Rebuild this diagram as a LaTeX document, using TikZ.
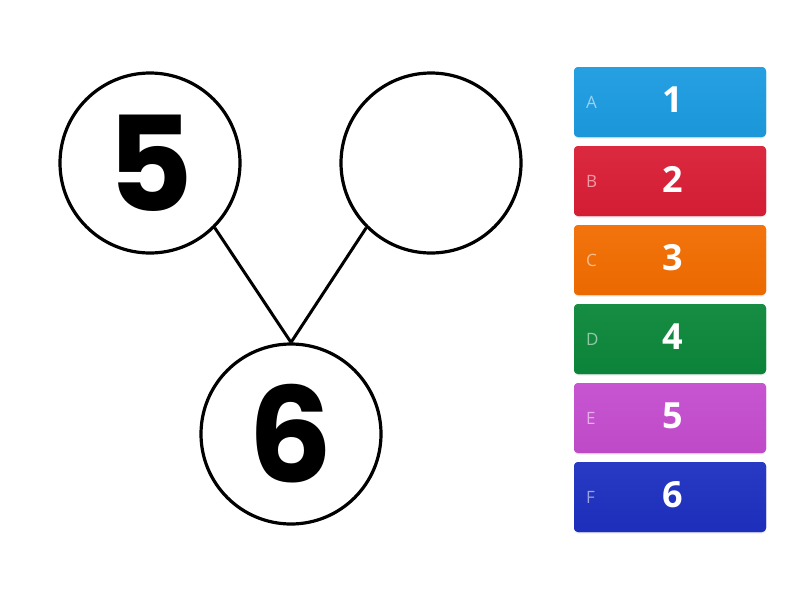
\documentclass[tikz,border=0pt]{standalone}
\usepackage{fontspec}
\setmainfont{Open Sans}
\newfontfamily\bigfont{Poppins}
\usetikzlibrary{shadows}
\definecolor{cA}{HTML}{1B9BE0}
\definecolor{cB}{HTML}{D91E36}
\definecolor{cC}{HTML}{F26C00}
\definecolor{cD}{HTML}{0B873A}
\definecolor{cE}{HTML}{C44CCE}
\definecolor{cF}{HTML}{1D30C0}
\tikzset{
  bubble/.style={circle,draw=black,line width=3.2pt,fill=white,minimum size=180pt,inner sep=0pt,
    font=\bigfont\bfseries\fontsize{132}{132}\selectfont},
  link/.style={line width=3pt,black},
  answer/.style={rectangle,rounded corners=4pt,minimum width=192pt,minimum height=70pt,inner sep=0pt,
    drop shadow={shadow xshift=0pt,shadow yshift=-1.5pt,opacity=0.15}},
  letter/.style={text=white,text opacity=0.55,font=\fontsize{17}{17}\selectfont,anchor=west,inner sep=0pt},
  number/.style={text=white,font=\bfseries\fontsize{36}{36}\selectfont,inner sep=0pt}
}
\begin{document}
\begin{tikzpicture}[x=1pt,y=-1pt]
\useasboundingbox (0,0) rectangle (800,600);
\node[bubble] (L) at (150,163) {5};
\node[bubble] (R) at (431,163) {};
\node[bubble] (B) at (291,434) {6};
\draw[link] (L.-45) -- (B.north);
\draw[link] (R.-135) -- (B.north);
\foreach \c/\l/\n [count=\i from 0] in {cA/A/1,cB/B/2,cC/C/3,cD/D/4,cE/E/5,cF/F/6}{
  \node[answer,fill=\c,top color=\c!95!white,bottom color=\c!97!black] (btn\l) at (670,{102+79*\i}) {};
  \node[letter] (let\l) at ([xshift=12pt]btn\l.west) {\l};
  \node[number] (num\l) at ([xshift=3pt,yshift=2pt]btn\l.center) {\n};
}
\end{tikzpicture}
\end{document}
